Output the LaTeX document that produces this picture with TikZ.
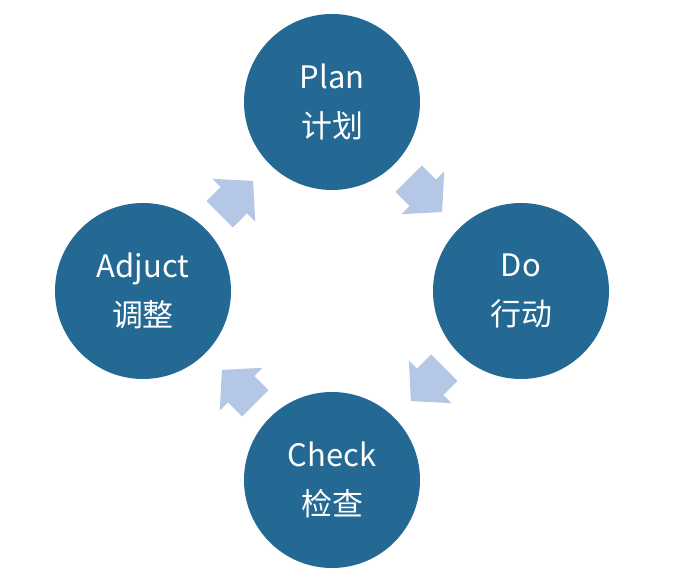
\documentclass[tikz,border=0pt]{standalone}
\usepackage{fontspec}
\setmainfont{Noto Sans CJK SC}
\usetikzlibrary{shapes.arrows,calc}
\definecolor{stagefill}{HTML}{246993}
\definecolor{flowfill}{HTML}{B4C7E7}
\tikzset{
  stage/.style={circle,fill=stagefill,minimum size=4.4cm,inner sep=0pt,text=white,align=center,font=\fontsize{22}{35}\selectfont},
  flow/.style={single arrow,fill=flowfill,minimum height=1.18cm,inner xsep=0pt,inner ysep=0.46cm,single arrow head extend=0.29cm,single arrow tip angle=96,anchor=tip}
}
\begin{document}
\begin{tikzpicture}
  \useasboundingbox (-8.3,-7.225) rectangle (8.65,7.275);
  % the four stages
  \node[stage] (plan) at (0,4.725) {Plan\\计划};
  \node[stage] (do) at (4.725,0) {Do\\行动};
  \node[stage] (check) at (0,-4.725) {Check\\检查};
  \node[stage] (adjust) at (-4.725,0) {Adjuct\\调整};
  % arrows between them, tip placed past the midpoint
  \node[flow,rotate=-45] (plantodo) at ($(plan)!0.5!(do)+(-45:0.56)$) {};
  \node[flow,rotate=-135] (dotocheck) at ($(do)!0.5!(check)+(-135:0.56)$) {};
  \node[flow,rotate=135] (checktoadjust) at ($(check)!0.5!(adjust)+(135:0.56)$) {};
  \node[flow,rotate=45] (adjusttoplan) at ($(adjust)!0.5!(plan)+(45:0.56)$) {};
\end{tikzpicture}
\end{document}
